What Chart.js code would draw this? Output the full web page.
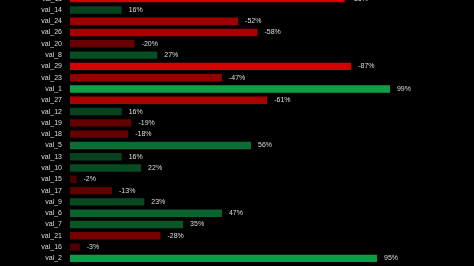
<!DOCTYPE html>
<html>
<head>
<meta charset="utf-8">
<script src="https://cdn.jsdelivr.net/npm/chart.js@4/dist/chart.umd.min.js"></script>
<style>
    html, body { margin: 0; padding: 0; background: #000; overflow: hidden; }
    #wrap { position: absolute; left: 0; top: -7px; width: 474px; height: 271px; }
</style>
</head>
<body>
<div id="wrap"><canvas id="chart"></canvas></div>
<script>
// Category names, top to bottom (the first one is cut off at the top)
const labels = ['val_11', 'val_14', 'val_24', 'val_26', 'val_20', 'val_8', 'val_29', 'val_23',
    'val_1', 'val_27', 'val_12', 'val_19', 'val_18', 'val_5', 'val_13', 'val_10',
    'val_15', 'val_17', 'val_9', 'val_6', 'val_7', 'val_21', 'val_16', 'val_2'];

// Signed percentage change per category
const values = [-85, 16, -52, -58, -20, 27, -87, -47,
    99, -61, 16, -19, -18, 56, 16, 22,
    -2, -13, 23, 47, 35, -28, -3, 95];

const FONT = '"Liberation Sans", Arial, sans-serif';

// Bar colour: brighter for larger magnitude
function barColor(v) {
    const a = 0.3 + 0.7 * Math.min(Math.abs(v), 100) / 100;
    return v >= 0 ? `rgba(16, 160, 72, ${a})` : `rgba(235, 0, 0, ${a})`;
}

// Draw the percentage text just past each bar
const valueLabels = {
    id: 'valueLabels',
    afterDatasetsDraw(chart) {
        const ctx = chart.ctx;
        const meta = chart.getDatasetMeta(0);
        ctx.save();
        ctx.font = '7px ' + FONT;
        ctx.fillStyle = '#dddddd';
        ctx.textAlign = 'left';
        ctx.textBaseline = 'middle';
        meta.data.forEach((bar, i) => {
            ctx.fillText(values[i] + '%', bar.x + 7, bar.y);
        });
        ctx.restore();
    }
};

new Chart(document.getElementById('chart'), {
    type: 'bar',
    data: {
        labels: labels,
        datasets: [{
            data: values.map(v => Math.abs(v)),
            backgroundColor: values.map(barColor),
            borderWidth: 0,
            barPercentage: 0.66,
            categoryPercentage: 1
        }]
    },
    options: {
        indexAxis: 'y',
        responsive: true,
        maintainAspectRatio: false,
        animation: false,
        layout: { padding: 0 },
        plugins: {
            legend: { display: false },
            tooltip: { enabled: false }
        },
        scales: {
            x: {
                display: false,
                min: 0,
                max: 125
            },
            y: {
                border: { display: false },
                grid: { display: false },
                afterFit(scale) {
                    scale.width = 70;
                    scale.paddingTop = 0;
                    scale.paddingBottom = 0;
                },
                ticks: {
                    color: '#dddddd',
                    padding: 0,
                    autoSkip: false,
                    font: { family: FONT, size: 7 }
                }
            }
        }
    },
    plugins: [valueLabels]
});
</script>
</body>
</html>
